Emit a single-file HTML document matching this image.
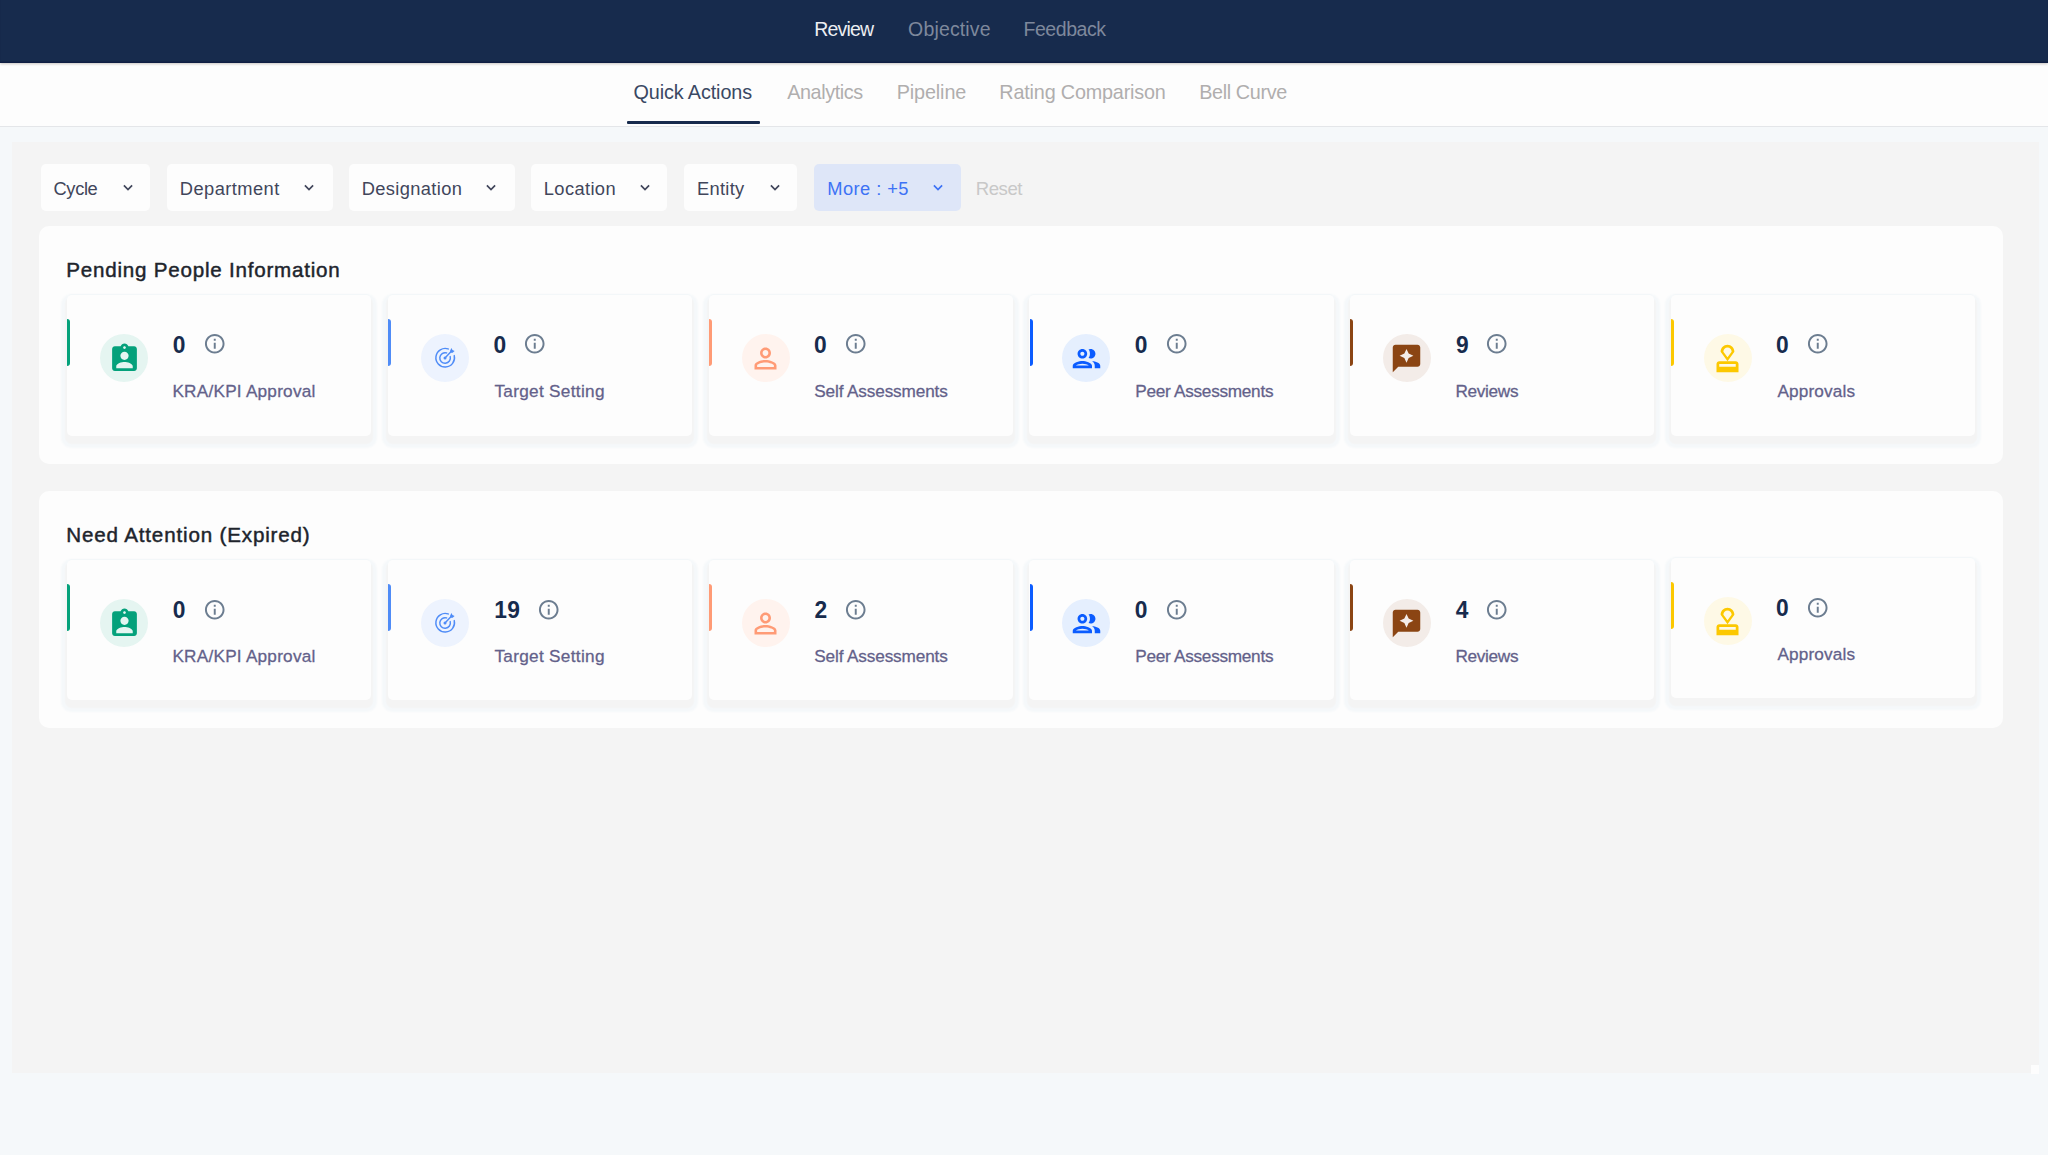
<!DOCTYPE html>
<html>
<head>
<meta charset="utf-8">
<title>Review - Quick Actions</title>
<style>
*{box-sizing:border-box;margin:0;padding:0}
html,body{width:2048px;height:1155px;overflow:hidden}
body{background:#f5f8fa;font-family:"Liberation Sans",sans-serif;position:relative;color:#172b4d}
.abs{position:absolute}
.t{position:absolute;line-height:1;white-space:nowrap;z-index:3}
#topnav{left:0;top:0;width:2048px;height:62.8px;background:#172b4d;box-shadow:0 1px 2.5px rgba(60,50,40,.28),inset 0 -1.5px 1px rgba(0,10,50,.35);z-index:2}
#subnav{left:0;top:62px;width:2048px;height:65px;background:#fdfdfd;border-bottom:1px solid #e4e6e9}
#uline{left:626.8px;top:121.2px;width:132.9px;height:3.3px;background:#172b4d;border-radius:1px}
#panel{left:12px;top:142px;width:2027px;height:931px;background:#f4f4f4}
#corner{left:2030.8px;top:1065.1px;width:8.2px;height:8.6px;background:#fdfdfd}
.f{position:absolute;top:164px;height:47px;background:#fdfdfd;border-radius:5px}
.f.more{background:#dee6f8}
.chev{position:absolute;top:183px;width:12px;height:10px}
.sec{left:39.2px;width:1964px;background:#fdfdfd;border-radius:10px}
.card{position:absolute;width:304.3px;background:#fdfdfd;border-radius:5px;border-top:1px solid #f3f7f9;box-shadow:0 5.8px 1px 2px #f4f4f4,0 5.6px 2px 5.6px #f5f8fa}
.bar{position:absolute;width:3px;height:46.9px;border-radius:0 3px 3px 0}
.ic{position:absolute;width:48px;height:48px;border-radius:50%}
svg{position:absolute;overflow:visible}
</style>
</head>
<body>
<div id="topnav" class="abs"></div>
<div id="subnav" class="abs"></div>
<div id="uline" class="abs"></div>
<div id="panel" class="abs"></div>
<div id="corner" class="abs"></div>
<div class="f" style="left:40.5px;width:109.9px"></div>
<svg class="chev" style="left:121.5px" viewBox="0 0 12 10"><path d="M1.9 2.4 L6 6.5 L10.1 2.4" fill="none" stroke="#41465b" stroke-width="1.7"/></svg>
<div class="f" style="left:167.2px;width:165.5px"></div>
<svg class="chev" style="left:303.4px" viewBox="0 0 12 10"><path d="M1.9 2.4 L6 6.5 L10.1 2.4" fill="none" stroke="#41465b" stroke-width="1.7"/></svg>
<div class="f" style="left:349.1px;width:165.5px"></div>
<svg class="chev" style="left:484.8px" viewBox="0 0 12 10"><path d="M1.9 2.4 L6 6.5 L10.1 2.4" fill="none" stroke="#41465b" stroke-width="1.7"/></svg>
<div class="f" style="left:530.9px;width:136.4px"></div>
<svg class="chev" style="left:638.6px" viewBox="0 0 12 10"><path d="M1.9 2.4 L6 6.5 L10.1 2.4" fill="none" stroke="#41465b" stroke-width="1.7"/></svg>
<div class="f" style="left:683.8px;width:113.2px"></div>
<svg class="chev" style="left:768.5px" viewBox="0 0 12 10"><path d="M1.9 2.4 L6 6.5 L10.1 2.4" fill="none" stroke="#41465b" stroke-width="1.7"/></svg>
<div class="f more" style="left:814.1px;width:147.2px"></div>
<svg class="chev" style="left:931.9px" viewBox="0 0 12 10"><path d="M1.9 2.4 L6 6.5 L10.1 2.4" fill="none" stroke="#3d72f5" stroke-width="1.7"/></svg>
<div class="sec abs" style="top:226.2px;height:237.95px"></div>
<div class="card" style="left:67.00px;top:293.55px;height:142.55px"></div>
<div class="bar" style="left:67.20px;top:319.3px;background:#04a17b"></div>
<div class="ic" style="left:100.25px;top:334px;background:#e5f5f1"></div>
<svg style="left:107.55px;top:341.90px;width:33px;height:33px" viewBox="0 0 24 24"><path fill="#04a17b" d="M19 3h-4.18C14.4 1.84 13.3 1 12 1c-1.3 0-2.4.84-2.82 2H5c-1.1 0-2 .9-2 2v14c0 1.1.9 2 2 2h14c1.1 0 2-.9 2-2V5c0-1.1-.9-2-2-2zm-7 0c.55 0 1 .45 1 1s-.45 1-1 1-1-.45-1-1 .45-1 1-1zm0 4c1.66 0 3 1.34 3 3s-1.340 3-3 3-3-1.340-3-3 1.340-3 3-3zm6 12H6v-1.400c0-2 4-3.100 6-3.100s6 1.100 6 3.100V19z"/></svg>
<svg style="left:202.80px;top:332.15px;width:23.5px;height:23.5px" viewBox="0 0 24 24"><path fill="#6c7d90" d="M11 7h2v2h-2zm0 4h2v6h-2zm1-9C6.480 2 2 6.480 2 12s4.480 10 10 10 10-4.480 10-10S17.520 2 12 2zm0 18c-4.410 0-8-3.590-8-8s3.590-8 8-8 8 3.590 8 8-3.590 8-8 8z"/></svg>
<div class="card" style="left:387.80px;top:293.55px;height:142.55px"></div>
<div class="bar" style="left:388.00px;top:319.3px;background:#4f8cf7"></div>
<div class="ic" style="left:420.92px;top:334px;background:#edf3fe"></div>
<svg style="left:432.92px;top:345.20px;width:24px;height:24px" viewBox="0 0 24 24"><g fill="none" stroke="#4f8cf7" stroke-width="1.45" stroke-linecap="round"><path d="M15.2 3.9 A9.3 9.3 0 1 0 21.25 10.6"/><path d="M13.6 7.9 A5.3 5.3 0 1 0 17.2 11.6"/><path d="M12 13 L18.6 6.0"/></g><circle cx="12" cy="13" r="1.5" fill="#4f8cf7"/><path fill="#4f8cf7" d="M17.0 6.0 L18.4 3.1 L19.5 5.1 L21.6 6.1 L19.7 7.8 L17.6 7.7 Z"/></svg>
<svg style="left:523.47px;top:332.15px;width:23.5px;height:23.5px" viewBox="0 0 24 24"><path fill="#6c7d90" d="M11 7h2v2h-2zm0 4h2v6h-2zm1-9C6.480 2 2 6.480 2 12s4.480 10 10 10 10-4.480 10-10S17.520 2 12 2zm0 18c-4.410 0-8-3.590-8-8s3.590-8 8-8 8 3.590 8 8-3.590 8-8 8z"/></svg>
<div class="card" style="left:708.60px;top:293.55px;height:142.55px"></div>
<div class="bar" style="left:708.80px;top:319.3px;background:#ff9b76"></div>
<div class="ic" style="left:741.59px;top:334px;background:#fff3ee"></div>
<svg style="left:749.09px;top:341.50px;width:33px;height:33px" viewBox="0 0 24 24"><path fill="#ff9b76" d="M12 5.9c1.160 0 2.100.940 2.100 2.100s-.940 2.100-2.100 2.100S9.900 9.160 9.900 8s.940-2.100 2.100-2.100m0 9c2.970 0 6.100 1.460 6.100 2.100v1.100H5.900V17c0-.640 3.130-2.100 6.100-2.100M12 4C9.790 4 8 5.790 8 8s1.790 4 4 4 4-1.790 4-4-1.790-4-4-4zm0 9c-2.670 0-8 1.340-8 4v3h16v-3c0-2.660-5.330-4-8-4z"/></svg>
<svg style="left:844.14px;top:332.15px;width:23.5px;height:23.5px" viewBox="0 0 24 24"><path fill="#6c7d90" d="M11 7h2v2h-2zm0 4h2v6h-2zm1-9C6.480 2 2 6.480 2 12s4.480 10 10 10 10-4.480 10-10S17.520 2 12 2zm0 18c-4.410 0-8-3.590-8-8s3.590-8 8-8 8 3.590 8 8-3.590 8-8 8z"/></svg>
<div class="card" style="left:1029.40px;top:293.55px;height:142.55px"></div>
<div class="bar" style="left:1029.60px;top:319.3px;background:#0b5cff"></div>
<div class="ic" style="left:1062.26px;top:334px;background:#e5effe"></div>
<svg style="left:1069.76px;top:341.50px;width:33px;height:33px" viewBox="0 0 24 24"><path fill="#0b5cff" d="M9 13.750c-2.340 0-7 1.170-7 3.500V19h14v-1.750c0-2.330-4.660-3.500-7-3.500zM4.340 17c.840-.580 2.870-1.250 4.660-1.250s3.820.670 4.660 1.250H4.340zM9 12c1.930 0 3.500-1.570 3.500-3.500S10.930 5 9 5 5.500 6.570 5.500 8.500 7.070 12 9 12zm0-5c.830 0 1.500.670 1.500 1.500S9.830 10 9 10s-1.500-.670-1.500-1.500S8.170 7 9 7zm7.040 6.810c1.160.840 1.960 1.960 1.960 3.440V19h4v-1.750c0-2.020-3.500-3.170-5.960-3.440zM15 12c1.930 0 3.500-1.570 3.500-3.500S16.930 5 15 5c-.540 0-1.040.130-1.500.350.630.890 1 1.980 1 3.150s-.370 2.260-1 3.150c.460.220.960.350 1.500.350z"/></svg>
<svg style="left:1164.81px;top:332.15px;width:23.5px;height:23.5px" viewBox="0 0 24 24"><path fill="#6c7d90" d="M11 7h2v2h-2zm0 4h2v6h-2zm1-9C6.480 2 2 6.480 2 12s4.480 10 10 10 10-4.480 10-10S17.520 2 12 2zm0 18c-4.410 0-8-3.590-8-8s3.590-8 8-8 8 3.590 8 8-3.590 8-8 8z"/></svg>
<div class="card" style="left:1350.20px;top:293.55px;height:142.55px"></div>
<div class="bar" style="left:1350.40px;top:319.3px;background:#8b4513"></div>
<div class="ic" style="left:1382.93px;top:334px;background:#f3ece8"></div>
<svg style="left:1390.43px;top:341.50px;width:33px;height:33px" viewBox="0 0 24 24"><path fill="#8b4513" d="M20 2H4c-1.100 0-2 .900-2 2v18l4-4h14c1.100 0 2-.900 2-2V4c0-1.100-.900-2-2-2zm-6.430 9.570L12 15l-1.570-3.430L7 10l3.430-1.570L12 5l1.570 3.430L17 10l-3.430 1.570z"/></svg>
<svg style="left:1485.48px;top:332.15px;width:23.5px;height:23.5px" viewBox="0 0 24 24"><path fill="#6c7d90" d="M11 7h2v2h-2zm0 4h2v6h-2zm1-9C6.480 2 2 6.480 2 12s4.480 10 10 10 10-4.480 10-10S17.520 2 12 2zm0 18c-4.410 0-8-3.590-8-8s3.590-8 8-8 8 3.590 8 8-3.590 8-8 8z"/></svg>
<div class="card" style="left:1671.00px;top:293.55px;height:142.55px"></div>
<div class="bar" style="left:1671.20px;top:319.3px;background:#fcc800"></div>
<div class="ic" style="left:1703.60px;top:334px;background:#fef9e6"></div>
<svg style="left:1711.10px;top:341.50px;width:33px;height:33px" viewBox="0 0 24 24"><path fill="#fcc800" d="M4 16v6h16v-6c0-1.100-.900-2-2-2H6c-1.100 0-2 .900-2 2zm14 2H6v-2h12v2zM12 2C9.240 2 7 4.240 7 7l5 7 5-7c0-2.760-2.240-5-5-5zm0 9L9 7c0-1.660 1.340-3 3-3s3 1.340 3 3l-3 4z"/></svg>
<svg style="left:1806.15px;top:332.15px;width:23.5px;height:23.5px" viewBox="0 0 24 24"><path fill="#6c7d90" d="M11 7h2v2h-2zm0 4h2v6h-2zm1-9C6.480 2 2 6.480 2 12s4.480 10 10 10 10-4.480 10-10S17.520 2 12 2zm0 18c-4.410 0-8-3.590-8-8s3.590-8 8-8 8 3.590 8 8-3.590 8-8 8z"/></svg>
<div class="sec abs" style="top:490.9px;height:237.5px"></div>
<div class="card" style="left:67.00px;top:558.55px;height:141.15px"></div>
<div class="bar" style="left:67.20px;top:584.3px;background:#04a17b"></div>
<div class="ic" style="left:100.25px;top:599px;background:#e5f5f1"></div>
<svg style="left:107.55px;top:606.90px;width:33px;height:33px" viewBox="0 0 24 24"><path fill="#04a17b" d="M19 3h-4.18C14.4 1.84 13.3 1 12 1c-1.3 0-2.4.84-2.82 2H5c-1.1 0-2 .9-2 2v14c0 1.1.9 2 2 2h14c1.1 0 2-.9 2-2V5c0-1.1-.9-2-2-2zm-7 0c.55 0 1 .45 1 1s-.45 1-1 1-1-.45-1-1 .45-1 1-1zm0 4c1.66 0 3 1.34 3 3s-1.340 3-3 3-3-1.340-3-3 1.340-3 3-3zm6 12H6v-1.400c0-2 4-3.100 6-3.100s6 1.100 6 3.100V19z"/></svg>
<svg style="left:202.80px;top:597.65px;width:23.5px;height:23.5px" viewBox="0 0 24 24"><path fill="#6c7d90" d="M11 7h2v2h-2zm0 4h2v6h-2zm1-9C6.480 2 2 6.480 2 12s4.480 10 10 10 10-4.480 10-10S17.520 2 12 2zm0 18c-4.410 0-8-3.590-8-8s3.590-8 8-8 8 3.590 8 8-3.590 8-8 8z"/></svg>
<div class="card" style="left:387.80px;top:558.55px;height:141.15px"></div>
<div class="bar" style="left:388.00px;top:584.3px;background:#4f8cf7"></div>
<div class="ic" style="left:420.92px;top:599px;background:#edf3fe"></div>
<svg style="left:432.92px;top:610.20px;width:24px;height:24px" viewBox="0 0 24 24"><g fill="none" stroke="#4f8cf7" stroke-width="1.45" stroke-linecap="round"><path d="M15.2 3.9 A9.3 9.3 0 1 0 21.25 10.6"/><path d="M13.6 7.9 A5.3 5.3 0 1 0 17.2 11.6"/><path d="M12 13 L18.6 6.0"/></g><circle cx="12" cy="13" r="1.5" fill="#4f8cf7"/><path fill="#4f8cf7" d="M17.0 6.0 L18.4 3.1 L19.5 5.1 L21.6 6.1 L19.7 7.8 L17.6 7.7 Z"/></svg>
<svg style="left:537.02px;top:597.65px;width:23.5px;height:23.5px" viewBox="0 0 24 24"><path fill="#6c7d90" d="M11 7h2v2h-2zm0 4h2v6h-2zm1-9C6.480 2 2 6.480 2 12s4.480 10 10 10 10-4.480 10-10S17.520 2 12 2zm0 18c-4.410 0-8-3.590-8-8s3.590-8 8-8 8 3.590 8 8-3.590 8-8 8z"/></svg>
<div class="card" style="left:708.60px;top:558.55px;height:141.15px"></div>
<div class="bar" style="left:708.80px;top:584.3px;background:#ff9b76"></div>
<div class="ic" style="left:741.59px;top:599px;background:#fff3ee"></div>
<svg style="left:749.09px;top:606.50px;width:33px;height:33px" viewBox="0 0 24 24"><path fill="#ff9b76" d="M12 5.9c1.160 0 2.100.940 2.100 2.100s-.940 2.100-2.100 2.100S9.900 9.160 9.900 8s.940-2.100 2.100-2.100m0 9c2.970 0 6.100 1.460 6.100 2.100v1.100H5.900V17c0-.640 3.130-2.100 6.100-2.100M12 4C9.790 4 8 5.790 8 8s1.790 4 4 4 4-1.790 4-4-1.790-4-4-4zm0 9c-2.670 0-8 1.340-8 4v3h16v-3c0-2.660-5.330-4-8-4z"/></svg>
<svg style="left:844.14px;top:597.65px;width:23.5px;height:23.5px" viewBox="0 0 24 24"><path fill="#6c7d90" d="M11 7h2v2h-2zm0 4h2v6h-2zm1-9C6.480 2 2 6.480 2 12s4.480 10 10 10 10-4.480 10-10S17.520 2 12 2zm0 18c-4.410 0-8-3.590-8-8s3.590-8 8-8 8 3.590 8 8-3.590 8-8 8z"/></svg>
<div class="card" style="left:1029.40px;top:558.55px;height:141.15px"></div>
<div class="bar" style="left:1029.60px;top:584.3px;background:#0b5cff"></div>
<div class="ic" style="left:1062.26px;top:599px;background:#e5effe"></div>
<svg style="left:1069.76px;top:606.50px;width:33px;height:33px" viewBox="0 0 24 24"><path fill="#0b5cff" d="M9 13.750c-2.340 0-7 1.170-7 3.500V19h14v-1.750c0-2.330-4.660-3.500-7-3.500zM4.340 17c.840-.580 2.870-1.250 4.660-1.250s3.820.670 4.660 1.250H4.340zM9 12c1.930 0 3.500-1.570 3.500-3.500S10.930 5 9 5 5.500 6.570 5.500 8.500 7.070 12 9 12zm0-5c.830 0 1.500.670 1.500 1.500S9.830 10 9 10s-1.500-.670-1.500-1.500S8.170 7 9 7zm7.040 6.810c1.160.840 1.960 1.960 1.960 3.440V19h4v-1.750c0-2.020-3.500-3.170-5.960-3.440zM15 12c1.930 0 3.500-1.570 3.500-3.500S16.930 5 15 5c-.540 0-1.040.130-1.500.350.630.890 1 1.980 1 3.150s-.370 2.260-1 3.150c.460.220.960.350 1.500.350z"/></svg>
<svg style="left:1164.81px;top:597.65px;width:23.5px;height:23.5px" viewBox="0 0 24 24"><path fill="#6c7d90" d="M11 7h2v2h-2zm0 4h2v6h-2zm1-9C6.480 2 2 6.480 2 12s4.480 10 10 10 10-4.480 10-10S17.520 2 12 2zm0 18c-4.410 0-8-3.590-8-8s3.590-8 8-8 8 3.590 8 8-3.590 8-8 8z"/></svg>
<div class="card" style="left:1350.20px;top:558.55px;height:141.15px"></div>
<div class="bar" style="left:1350.40px;top:584.3px;background:#8b4513"></div>
<div class="ic" style="left:1382.93px;top:599px;background:#f3ece8"></div>
<svg style="left:1390.43px;top:606.50px;width:33px;height:33px" viewBox="0 0 24 24"><path fill="#8b4513" d="M20 2H4c-1.100 0-2 .900-2 2v18l4-4h14c1.100 0 2-.900 2-2V4c0-1.100-.900-2-2-2zm-6.430 9.570L12 15l-1.570-3.430L7 10l3.430-1.570L12 5l1.570 3.430L17 10l-3.430 1.570z"/></svg>
<svg style="left:1485.48px;top:597.65px;width:23.5px;height:23.5px" viewBox="0 0 24 24"><path fill="#6c7d90" d="M11 7h2v2h-2zm0 4h2v6h-2zm1-9C6.480 2 2 6.480 2 12s4.480 10 10 10 10-4.480 10-10S17.520 2 12 2zm0 18c-4.410 0-8-3.590-8-8s3.590-8 8-8 8 3.590 8 8-3.590 8-8 8z"/></svg>
<div class="card" style="left:1671.00px;top:557px;height:140.6px"></div>
<div class="bar" style="left:1671.20px;top:582.3px;background:#fcc800"></div>
<div class="ic" style="left:1703.60px;top:597px;background:#fef9e6"></div>
<svg style="left:1711.10px;top:604.50px;width:33px;height:33px" viewBox="0 0 24 24"><path fill="#fcc800" d="M4 16v6h16v-6c0-1.100-.900-2-2-2H6c-1.100 0-2 .900-2 2zm14 2H6v-2h12v2zM12 2C9.240 2 7 4.240 7 7l5 7 5-7c0-2.760-2.240-5-5-5zm0 9L9 7c0-1.660 1.340-3 3-3s3 1.340 3 3l-3 4z"/></svg>
<svg style="left:1806.15px;top:595.65px;width:23.5px;height:23.5px" viewBox="0 0 24 24"><path fill="#6c7d90" d="M11 7h2v2h-2zm0 4h2v6h-2zm1-9C6.480 2 2 6.480 2 12s4.480 10 10 10 10-4.480 10-10S17.520 2 12 2zm0 18c-4.410 0-8-3.590-8-8s3.590-8 8-8 8 3.590 8 8-3.590 8-8 8z"/></svg>
<span class="t" id="n1" style="left:814.25px;top:20.01px;font-size:19.5px;color:#eceef2;letter-spacing:-0.832px">Review</span>
<span class="t" id="n2" style="left:908.10px;top:20.01px;font-size:19.5px;color:#7e889c;letter-spacing:0.152px">Objective</span>
<span class="t" id="n3" style="left:1023.53px;top:20.01px;font-size:19.5px;color:#7e889c;letter-spacing:-0.450px">Feedback</span>
<span class="t" id="s1" style="left:633.45px;top:83.00px;font-size:19.8px;color:#3a4863;letter-spacing:-0.096px">Quick Actions</span>
<span class="t" id="s2" style="left:787.17px;top:83.00px;font-size:19.8px;color:#b0aeae;letter-spacing:-0.383px">Analytics</span>
<span class="t" id="s3" style="left:896.80px;top:83.00px;font-size:19.8px;color:#b0aeae;letter-spacing:-0.133px">Pipeline</span>
<span class="t" id="s4" style="left:999.37px;top:83.00px;font-size:19.8px;color:#b0aeae;letter-spacing:-0.180px">Rating Comparison</span>
<span class="t" id="s5" style="left:1199.16px;top:83.00px;font-size:19.8px;color:#b0aeae;letter-spacing:-0.357px">Bell Curve</span>
<span class="t" id="f1" style="left:53.55px;top:179.72px;font-size:18.3px;color:#41465b;letter-spacing:-0.377px">Cycle</span>
<span class="t" id="f2" style="left:179.81px;top:179.72px;font-size:18.3px;color:#41465b;letter-spacing:0.433px">Department</span>
<span class="t" id="f3" style="left:361.77px;top:179.72px;font-size:18.3px;color:#41465b;letter-spacing:0.359px">Designation</span>
<span class="t" id="f4" style="left:543.81px;top:179.72px;font-size:18.3px;color:#41465b;letter-spacing:0.379px">Location</span>
<span class="t" id="f5" style="left:696.99px;top:179.72px;font-size:18.3px;color:#41465b;letter-spacing:0.303px">Entity</span>
<span class="t" id="f6" style="left:827.30px;top:179.72px;font-size:18.3px;color:#3d72f5;letter-spacing:0.429px">More : +5</span>
<span class="t" id="f7" style="left:975.82px;top:180.01px;font-size:18.6px;color:#c8c8c8;letter-spacing:-0.480px">Reset</span>
<span class="t" id="h1" style="left:66.23px;top:260.10px;font-size:20.6px;color:#20242c;letter-spacing:0.775px;-webkit-text-stroke:0.45px #20242c">Pending People Information</span>
<span class="t" id="h2" style="left:66.23px;top:525.10px;font-size:20.6px;color:#20242c;letter-spacing:0.830px;-webkit-text-stroke:0.45px #20242c">Need Attention (Expired)</span>
<span class="t" id="c10n" style="left:172.74px;top:334.02px;font-size:22.8px;color:#172b4d;letter-spacing:0.000px;font-weight:bold;transform:scaleY(1.045);transform-origin:0 84.65%">0</span>
<span class="t" id="c10l" style="left:172.43px;top:382.61px;font-size:17.2px;color:#63618a;letter-spacing:0.227px;-webkit-text-stroke:0.28px #63618a">KRA/KPI Approval</span>
<span class="t" id="c11n" style="left:493.40px;top:334.02px;font-size:22.8px;color:#172b4d;letter-spacing:0.000px;font-weight:bold;transform:scaleY(1.045);transform-origin:0 84.65%">0</span>
<span class="t" id="c11l" style="left:494.43px;top:382.61px;font-size:17.2px;color:#63618a;letter-spacing:0.305px;-webkit-text-stroke:0.28px #63618a">Target Setting</span>
<span class="t" id="c12n" style="left:813.94px;top:334.02px;font-size:22.8px;color:#172b4d;letter-spacing:0.000px;font-weight:bold;transform:scaleY(1.045);transform-origin:0 84.65%">0</span>
<span class="t" id="c12l" style="left:814.21px;top:382.61px;font-size:17.2px;color:#63618a;letter-spacing:-0.134px;-webkit-text-stroke:0.28px #63618a">Self Assessments</span>
<span class="t" id="c13n" style="left:1134.78px;top:334.02px;font-size:22.8px;color:#172b4d;letter-spacing:0.000px;font-weight:bold;transform:scaleY(1.045);transform-origin:0 84.65%">0</span>
<span class="t" id="c13l" style="left:1135.21px;top:382.61px;font-size:17.2px;color:#63618a;letter-spacing:-0.268px;-webkit-text-stroke:0.28px #63618a">Peer Assessments</span>
<span class="t" id="c14n" style="left:1455.91px;top:334.02px;font-size:22.8px;color:#172b4d;letter-spacing:0.000px;font-weight:bold;transform:scaleY(1.045);transform-origin:0 84.65%">9</span>
<span class="t" id="c14l" style="left:1455.43px;top:382.61px;font-size:17.2px;color:#63618a;letter-spacing:-0.306px;-webkit-text-stroke:0.28px #63618a">Reviews</span>
<span class="t" id="c15n" style="left:1775.98px;top:334.02px;font-size:22.8px;color:#172b4d;letter-spacing:0.000px;font-weight:bold;transform:scaleY(1.045);transform-origin:0 84.65%">0</span>
<span class="t" id="c15l" style="left:1777.43px;top:382.61px;font-size:17.2px;color:#63618a;letter-spacing:0.153px;-webkit-text-stroke:0.28px #63618a">Approvals</span>
<span class="t" id="c20n" style="left:172.74px;top:599.02px;font-size:22.8px;color:#172b4d;letter-spacing:0.000px;font-weight:bold;transform:scaleY(1.045);transform-origin:0 84.65%">0</span>
<span class="t" id="c20l" style="left:172.43px;top:647.61px;font-size:17.2px;color:#63618a;letter-spacing:0.227px;-webkit-text-stroke:0.28px #63618a">KRA/KPI Approval</span>
<span class="t" id="c21n" style="left:494.17px;top:599.02px;font-size:22.8px;color:#172b4d;letter-spacing:0.372px;font-weight:bold;transform:scaleY(1.045);transform-origin:0 84.65%">19</span>
<span class="t" id="c21l" style="left:494.43px;top:647.61px;font-size:17.2px;color:#63618a;letter-spacing:0.305px;-webkit-text-stroke:0.28px #63618a">Target Setting</span>
<span class="t" id="c22n" style="left:814.48px;top:599.02px;font-size:22.8px;color:#172b4d;letter-spacing:0.000px;font-weight:bold;transform:scaleY(1.045);transform-origin:0 84.65%">2</span>
<span class="t" id="c22l" style="left:814.21px;top:647.61px;font-size:17.2px;color:#63618a;letter-spacing:-0.134px;-webkit-text-stroke:0.28px #63618a">Self Assessments</span>
<span class="t" id="c23n" style="left:1134.78px;top:599.02px;font-size:22.8px;color:#172b4d;letter-spacing:0.000px;font-weight:bold;transform:scaleY(1.045);transform-origin:0 84.65%">0</span>
<span class="t" id="c23l" style="left:1135.21px;top:647.61px;font-size:17.2px;color:#63618a;letter-spacing:-0.268px;-webkit-text-stroke:0.28px #63618a">Peer Assessments</span>
<span class="t" id="c24n" style="left:1455.82px;top:599.02px;font-size:22.8px;color:#172b4d;letter-spacing:0.000px;font-weight:bold;transform:scaleY(1.045);transform-origin:0 84.65%">4</span>
<span class="t" id="c24l" style="left:1455.43px;top:647.61px;font-size:17.2px;color:#63618a;letter-spacing:-0.306px;-webkit-text-stroke:0.28px #63618a">Reviews</span>
<span class="t" id="c25n" style="left:1775.98px;top:597.02px;font-size:22.8px;color:#172b4d;letter-spacing:0.000px;font-weight:bold;transform:scaleY(1.045);transform-origin:0 84.65%">0</span>
<span class="t" id="c25l" style="left:1777.43px;top:645.61px;font-size:17.2px;color:#63618a;letter-spacing:0.153px;-webkit-text-stroke:0.28px #63618a">Approvals</span>
</body>
</html>
